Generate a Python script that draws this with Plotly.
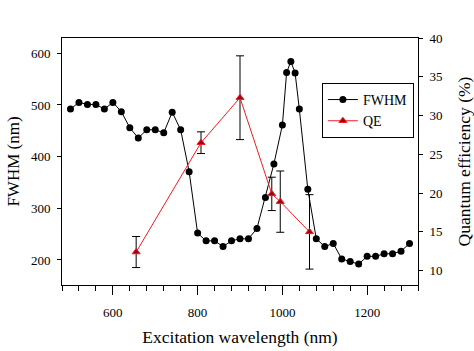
import plotly.graph_objects as go

# FWHM data
wl_fwhm = [500, 520, 540, 560, 580, 600, 620, 640, 660, 680, 700, 720, 740, 760, 780,
           800, 820, 840, 860, 880, 900, 920, 940, 960, 980, 1000, 1010, 1020, 1030, 1040,
           1060, 1080, 1100, 1120, 1140, 1160, 1180, 1200, 1220, 1240, 1260, 1280, 1300]
fwhm = [492, 505, 501, 501, 492, 505, 487, 456, 436, 452, 452, 446, 486, 452, 371,
        252, 237, 237, 226, 237, 241, 241, 261, 321, 386, 461, 563, 584, 562, 492,
        337, 241, 226, 232, 202, 197, 192, 207, 207, 212, 212, 217, 232]

# QE data
wl_qe = [655, 808, 900, 975, 995, 1064]
qe = [12.4, 26.5, 32.3, 19.9, 18.9, 15.0]
qe_err = [2.0, 1.4, 5.4, 2.15, 3.95, 4.8]

FONT = "Liberation Serif"
TICKFONT = dict(family=FONT, size=13, color="black")

fig = go.Figure()
fig.add_trace(go.Scatter(
    x=wl_fwhm, y=fwhm, name="FWHM", mode="lines+markers",
    line=dict(color="black", width=1),
    marker=dict(symbol="circle", size=7, color="black"),
    yaxis="y"))
fig.add_trace(go.Scatter(
    x=wl_qe, y=qe, name="QE", mode="lines+markers",
    line=dict(color="#ee1c25", width=1),
    marker=dict(symbol="triangle-up", size=7, color="#a00010",
                line=dict(color="#ee1c25", width=1)),
    error_y=dict(type="data", array=qe_err, color="black", thickness=1, width=4),
    yaxis="y2"))

fig.update_layout(
    width=474, height=351,
    margin=dict(l=62, r=56, t=38, b=66, autoexpand=False),
    paper_bgcolor="white", plot_bgcolor="white",
    font=dict(family=FONT, color="black", size=13),
    showlegend=True,
    legend=dict(x=0.73, y=0.818, xanchor="left", yanchor="top",
                bgcolor="white", bordercolor="black", borderwidth=1,
                font=dict(family=FONT, size=14, color="black"),
                tracegroupgap=0),
    xaxis=dict(
        range=[480, 1320], tick0=0, dtick=200, automargin=True,
        showline=True, linecolor="black", linewidth=1, mirror=True,
        ticks="outside", ticklen=9, tickcolor="black", tickwidth=1,
        ticklabelstandoff=6,
        minor=dict(tick0=0, dtick=40, ticks="outside", ticklen=5, tickcolor="black"),
        showgrid=False, zeroline=False,
        title=dict(text="Excitation wavelength (nm)",
                   font=dict(family=FONT, size=17.5, color="black"), standoff=12),
        tickfont=TICKFONT),
    yaxis=dict(
        range=[151.6, 629.6], tick0=0, dtick=100, automargin=True,
        showline=True, linecolor="black", linewidth=1,
        ticks="outside", ticklen=4, tickcolor="black",
        ticklabelstandoff=4,
        showgrid=False, zeroline=False,
        title=dict(text="FWHM (nm)", font=dict(family=FONT, size=17, color="black"), standoff=6),
        tickfont=TICKFONT),
    yaxis2=dict(
        range=[8.15, 40.0], tick0=0, dtick=5, overlaying="y", side="right", automargin=True,
        showline=True, linecolor="black", linewidth=1,
        ticks="outside", ticklen=4, tickcolor="black",
        ticklabelstandoff=4,
        showgrid=False, zeroline=False,
        title=dict(text="Quantum efficiency (%)",
                   font=dict(family=FONT, size=17.5, color="black"), standoff=16),
        tickfont=TICKFONT),
)

fig.write_html("out.html")
